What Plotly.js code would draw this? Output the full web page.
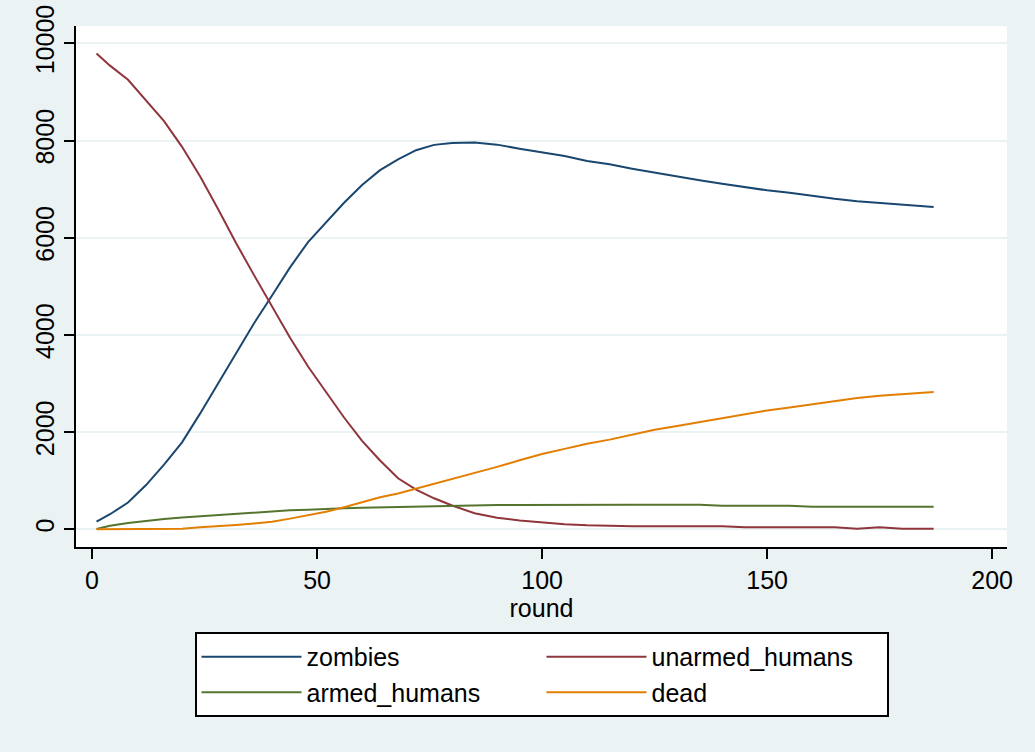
<!DOCTYPE html>
<html>
<head>
<meta charset="utf-8">
<script src="https://cdn.plot.ly/plotly-3.0.1.min.js"></script>
<style>
  html, body { margin: 0; padding: 0; background: #eaf2f3; }
  #chart { width: 1035px; height: 752px; }
</style>
</head>
<body>
<div id="chart"></div>
<script>
// values, per round
const rounds = [1, 4, 8, 12, 16, 20, 24, 28, 32, 36, 40, 44, 48, 52, 56, 60, 64, 68, 72, 76,
  80, 85, 90, 95, 100, 105, 110, 115, 120, 125, 130, 135, 140, 145, 150, 155, 160, 165, 170, 175, 180, 187];

const zombies = [160, 310, 550, 910, 1330, 1790, 2380, 3000, 3590, 4240, 4810, 5390, 5910, 6320, 6720, 7085,
  7390, 7610, 7800, 7910, 7950, 7960, 7915, 7830, 7750, 7680, 7580, 7510, 7420, 7340, 7245, 7180, 7110, 7040,
  6975, 6925, 6855, 6800, 6750, 6715, 6680, 6630];

const unarmed_humans = [9790, 9540, 9250, 8830, 8400, 7870, 7265, 6590, 5890, 5230, 4600, 3940, 3350, 2830,
  2300, 1820, 1415, 1050, 815, 638, 490, 330, 240, 180, 137, 105, 82, 70, 62, 62, 62, 62, 62, 41, 41, 41, 41,
  41, 14, 41, 14, 14];

const armed_humans = [5, 75, 130, 175, 213, 245, 270, 295, 322, 350, 375, 392, 405, 425, 432, 445, 453, 460,
  476, 476, 478, 490, 501, 501, 505, 507, 507, 507, 507, 507, 507, 507, 487, 487, 487, 487, 466, 466, 466,
  466, 466, 466];

const dead = [0, 0, 0, 0, 0, 10, 40, 60, 88, 118, 155, 220, 285, 360, 455, 565, 660, 735, 835, 935, 1030,
  1150, 1285, 1420, 1550, 1655, 1760, 1845, 1950, 2050, 2125, 2205, 2300, 2380, 2446, 2505, 2575, 2645,
  2700, 2750, 2785, 2823];

const yTicks = [0, 2000, 4000, 6000, 8000, 10000];
const xTicks = [0, 50, 100, 150, 200];

const seriesNames = ["zombies", "unarmed_humans", "armed_humans", "dead"];
const seriesColors = ["#1a476f", "#90353b", "#55752f", "#e37e00"];
const seriesValues = [zombies, unarmed_humans, armed_humans, dead];

const font = "Liberation Sans, Arial, sans-serif";

const data = seriesValues.map((vals, i) => ({
  x: rounds,
  y: vals,
  type: "scatter",
  mode: "lines",
  name: seriesNames[i],
  line: { color: seriesColors[i], width: 2 },
  hoverinfo: "none",
}));

const layout = {
  width: 1035,
  height: 752,
  paper_bgcolor: "#eaf2f3",
  plot_bgcolor: "#ffffff",
  margin: { l: 76, r: 28, t: 26, b: 205 },
  font: { family: font, size: 25, color: "#000000" },
  showlegend: true,
  legend: {
    orientation: "h",
    x: 0.5,
    xanchor: "center",
    y: -0.163,
    yanchor: "top",
    bgcolor: "#ffffff",
    bordercolor: "#000000",
    borderwidth: 2,
    font: { family: font, size: 25, color: "#000000" },
    itemwidth: 100,
    entrywidth: 230,
    entrywidthmode: "pixels",
    traceorder: "normal",
  },
  xaxis: {
    range: [-3.56, 203.3],
    tickvals: xTicks,
    ticktext: xTicks.map(String),
    showgrid: false,
    zeroline: false,
    showline: true,
    linecolor: "#000000",
    linewidth: 2,
    ticks: "outside",
    ticklen: 10,
    tickwidth: 2,
    tickcolor: "#000000",
    tickfont: { family: font, size: 25 },
    title: { text: "round", font: { family: font, size: 25 }, standoff: 0 },
  },
  yaxis: {
    range: [-364, 10356],
    tickvals: yTicks,
    ticktext: yTicks.map(String),
    tickangle: -90,
    showgrid: true,
    gridcolor: "#eaf2f3",
    gridwidth: 2,
    zeroline: false,
    showline: true,
    linecolor: "#000000",
    linewidth: 2,
    ticks: "outside",
    ticklen: 10,
    tickwidth: 2,
    tickcolor: "#000000",
    tickfont: { family: font, size: 25 },
  },
};

const config = { staticPlot: true, displayModeBar: false };

Plotly.newPlot("chart", data, layout, config);
</script>
</body>
</html>
